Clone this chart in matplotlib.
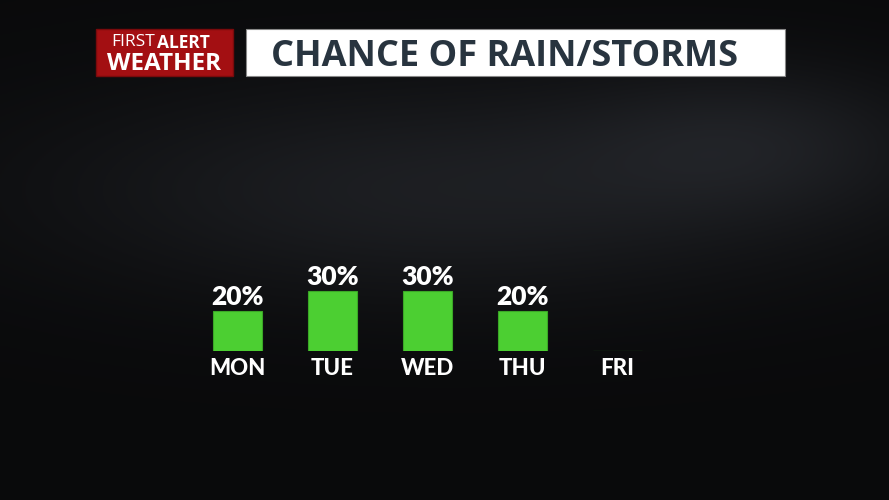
import matplotlib
matplotlib.use("Agg")
import matplotlib.pyplot as plt
import numpy as np
from matplotlib.patches import Rectangle

# data
days = ["MON", "TUE", "WED", "THU", "FRI"]
chance = [20, 30, 30, 20, None]
title = "CHANCE OF RAIN/STORMS"

fig = plt.figure(figsize=(8.89, 5.0), dpi=100)

# dark stormy background
bg = fig.add_axes([0, 0, 1, 1])
bg.set_axis_off()
yy, xx = np.mgrid[0:1:250j, 0:1:445j]
glow = np.exp(-(((xx - 0.5) / 0.45) ** 2 + ((yy - 0.62) / 0.22) ** 2))
glow2 = np.exp(-(((xx - 0.85) / 0.2) ** 2 + ((yy - 0.72) / 0.15) ** 2))
shade = 0.04 + 0.08 * glow + 0.06 * glow2
img = np.dstack([shade * 0.95, shade * 1.0, shade * 1.12])
bg.imshow(np.clip(img, 0, 1), extent=[0, 1, 0, 1], aspect="auto", origin="lower")
bg.set_xlim(0, 1)
bg.set_ylim(0, 1)

# header boxes
bg.add_patch(Rectangle((0.108, 0.848), 0.154, 0.094, facecolor="#a30f12",
                       edgecolor="#7a0a0c", lw=1))
bg.text(0.1745, 0.915, "FIRST", color="white", fontsize=12.5, family="Open Sans",
        ha="right", va="center")
bg.text(0.1765, 0.915, "ALERT", color="white", fontsize=12.5, family="Open Sans",
        weight="bold", ha="left", va="center")
bg.text(0.185, 0.871, "WEATHER", color="white", fontsize=17.5, family="Open Sans",
        weight="bold", ha="center", va="center")

bg.add_patch(Rectangle((0.277, 0.848), 0.606, 0.094, facecolor="white",
                       edgecolor="#888888", lw=0.8))
bg.text(0.568, 0.886, title, color="#28343f", fontsize=26, family="Open Sans",
        weight="bold", ha="center", va="center")

# bars
ax = fig.add_axes([190 / 889, 149 / 500, 475 / 889, 200 / 500])
ax.patch.set_alpha(0)
x = np.arange(len(days))
vals = [v if v is not None else 0 for v in chance]
ax.bar(x, vals, width=0.516, color="#4ccf32", edgecolor="#3aa826", lw=0.8)
for i, v in enumerate(chance):
    if v is not None:
        ax.text(i, v + 1.2, f"{v}%", color="white", fontsize=19, family="Lato",
                weight="heavy", ha="center", va="bottom")
    ax.text(i, -3.5, days[i], color="white", fontsize=16, family="Lato",
            weight="black", ha="center", va="top")
ax.set_xlim(-0.5, len(days) - 0.5)
ax.set_ylim(0, 100)
ax.set_axis_off()

fig.savefig("out.png", dpi=100)
